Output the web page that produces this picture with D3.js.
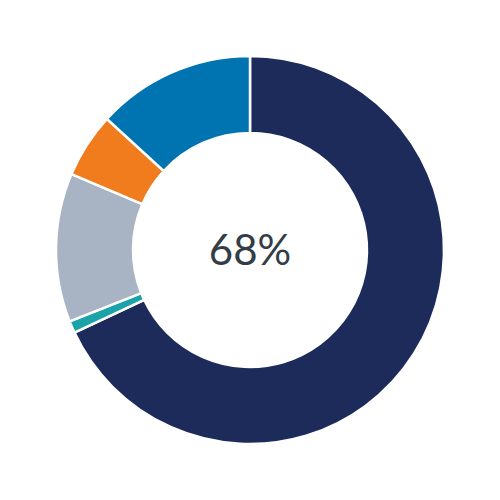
<!DOCTYPE html>
<html>
<head>
<meta charset="utf-8">
<script src="https://cdn.jsdelivr.net/npm/d3@7"></script>
<style>body{margin:0;background:#fff}</style>
</head>
<body>
<svg id="chart" width="500" height="500"></svg>
<script>
const categories = ['A', 'B', 'C', 'D', 'E']
const values = [68, 1, 12.4, 5.4, 13.2]
const colors = ['#1c2b5a', '#1aa3a8', '#a8b3c3', '#f07c1e', '#0073b1']
const centerLabel = '68%'

const svg = d3.select('#chart')
const g = svg.append('g').attr('transform', 'translate(250,250)')

const pie = d3.pie().sort(null).value(d => d)
const arc = d3.arc().innerRadius(117).outerRadius(194)

g.selectAll('path')
    .data(pie(values))
    .join('path')
    .attr('d', arc)
    .attr('fill', (d, i) => colors[i])
    .attr('stroke', '#fff')
    .attr('stroke-width', 2.5)

g.append('text')
    .attr('text-anchor', 'middle')
    .attr('dy', '0.35em')
    .attr('font-family', 'Lato, sans-serif')
    .attr('font-size', 42)
    .attr('fill', '#333d47')
    .text(centerLabel)
</script>
</body>
</html>
